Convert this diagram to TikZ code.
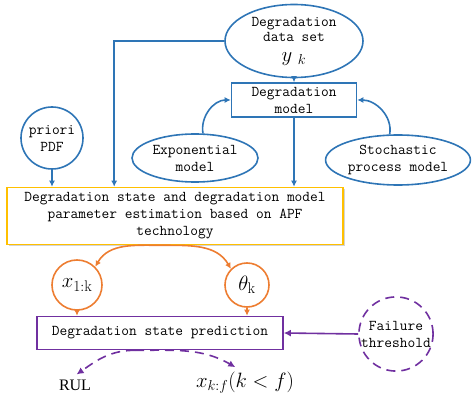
\documentclass[tikz,border=0pt]{standalone}
\usepackage{fontspec}
\newfontfamily\serifont{Liberation Serif}
\usetikzlibrary{arrows.meta,shapes.geometric,shadows}
\definecolor{lineblue}{HTML}{2E75B6}
\definecolor{lineorange}{HTML}{ED7D31}
\definecolor{linegold}{HTML}{FFC000}
\definecolor{linepurple}{HTML}{7030A0}
\def\mathsize{\fontsize{22}{22}\selectfont}

\begin{document}
\begin{tikzpicture}[x=1pt,y=1pt,line width=1.6pt,
    font=\ttfamily\fontsize{15}{17}\selectfont]
    \tikzstyle{blue node}=[draw=lineblue, align=center, inner sep=1pt]
    \tikzstyle{blue ellipse}=[blue node, ellipse]
    \tikzstyle{blue arrow}=[draw=lineblue, -{Latex[length=6pt,width=6pt]}]
    \tikzstyle{orange arrow}=[draw=lineorange, -{Latex[length=6pt,width=6pt]}]
    \tikzstyle{purple arrow}=[draw=linepurple, -{Latex[length=7pt,width=7pt]}]
    \tikzstyle{guess arrow}=[purple arrow, dash pattern=on 9pt off 6pt, shorten >=2pt]

    \useasboundingbox (0,0) rectangle (474,-406);

    % Draw the model part
    \node[blue ellipse, minimum width=138pt, minimum height=73pt] (data) at (294,-41)
        {Degradation\\[-2pt]data set\\[3pt]{\mathsize$y_{\;\,k}$}};
    \node[blue node, rectangle, minimum width=125pt, minimum height=34pt] (model) at (294,-100)
        {Degradation\\model};
    \node[blue node, circle, minimum size=62pt] (prior) at (52,-138) {priori\\PDF};
    \node[blue ellipse, minimum width=126pt, minimum height=48pt] (expo) at (195,-158)
        {Exponential\\model};
    \node[blue ellipse, minimum width=134pt, minimum height=50pt] (stoch) at (398,-160)
        {Stochastic\\process model};

    % Draw the estimation part
    \node[draw=linegold, rectangle, align=center, minimum width=336pt, minimum height=57pt,
        fill=white, drop shadow={opacity=0.35, shadow xshift=2pt, shadow yshift=-2pt}]
        (apf) at (175,-216)
        {Degradation state and degradation model\\parameter estimation based on APF\\technology};
    \node[draw=lineorange, circle, minimum size=50pt, inner sep=0pt] (xk) at (77,-285)
        {\mathsize$x_{\mathrm{1:k}}$};
    \node[draw=lineorange, circle, minimum size=44pt, inner sep=0pt] (theta) at (247,-285)
        {\mathsize$\theta_{\mathrm{k}}$};

    % Draw the prediction part
    \node[draw=linepurple, rectangle, minimum width=246pt, minimum height=33pt] (pred) at (160,-333)
        {Degradation state prediction};
    \node[draw=linepurple, circle, dash pattern=on 9pt off 6pt, minimum size=72pt,
        align=center, inner sep=0pt] (fail) at (396,-334) {Failure\\threshold};
    \node[font=\serifont\fontsize{16}{16}\selectfont] (rul) at (75,-385) {RUL};
    \node[font=\mathsize] (xkf) at (245,-383) {$x_{k:f}(k<f)$};

    % Connect the blue nodes
    \draw[blue arrow] (data.west) -| ([xshift=108pt]apf.north west);
    \draw[blue arrow] (data.south) -- (model.north);
    \draw[blue arrow] (model.south) -- (model.south |- apf.north);
    \draw[blue arrow] (prior.south) -- (prior.south |- apf.north);
    \draw[blue arrow] (expo.72) to[out=100,in=180] (model.west);
    \draw[blue arrow] (stoch.108) to[out=80,in=0] (model.east);

    % Connect the estimation to the states
    \draw[orange arrow] ([xshift=-12pt]apf.south) to[out=180,in=60] (xk.45);
    \draw[orange arrow] ([xshift=-12pt]apf.south) to[out=0,in=120] (theta.135);
    \draw[orange arrow] (xk.south) -- (xk.south |- pred.north);
    \draw[orange arrow] (theta.south) -- (theta.south |- pred.north);

    % Connect the prediction
    \draw[purple arrow] (fail.west) -- (pred.east);
    \draw[guess arrow] ([xshift=-25pt]pred.south) to[out=180,in=35] (rul.north);
    \draw[guess arrow] ([xshift=-25pt]pred.south) to[out=0,in=150] ([xshift=-8pt]xkf.north);
\end{tikzpicture}
\end{document}
